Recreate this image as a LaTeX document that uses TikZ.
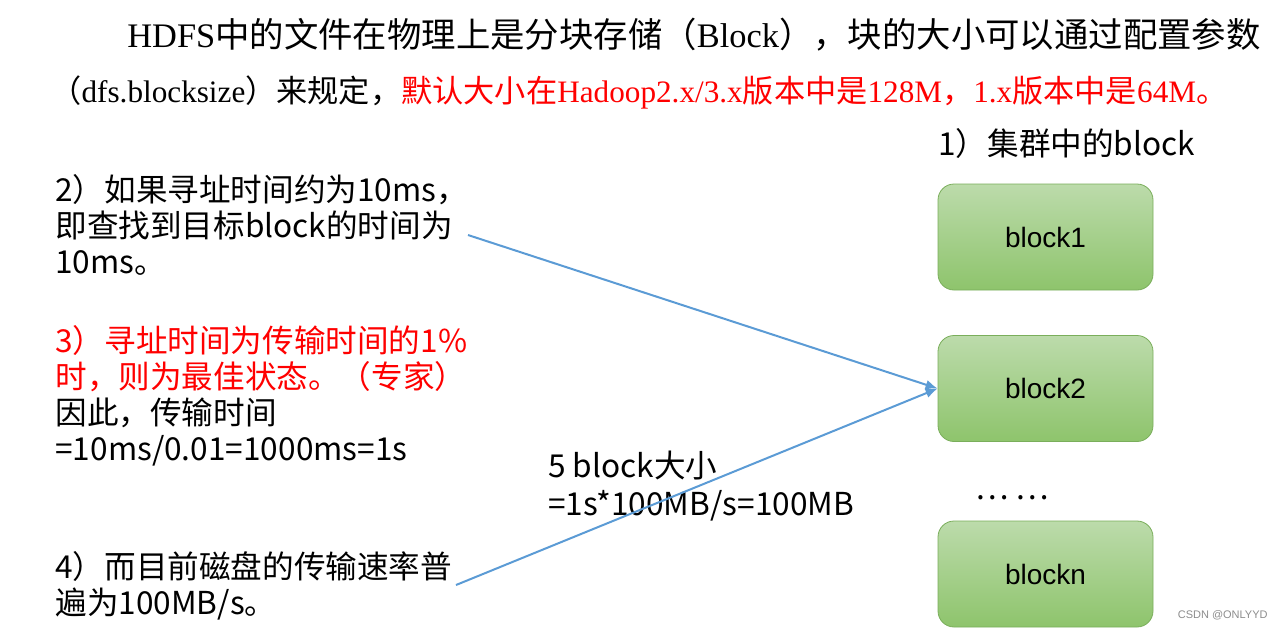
\documentclass[tikz,border=0pt]{standalone}
\usepackage{fontspec}
\setmainfont{Noto Sans CJK SC}
\newfontfamily\latinserif{Liberation Serif}
\newfontfamily\sans{Liberation Sans}
\usetikzlibrary{arrows.meta}
\definecolor{boxtop}{HTML}{BCDBAB}
\definecolor{boxbot}{HTML}{8EC46C}
\definecolor{boxline}{HTML}{7AAE5B}
\definecolor{arrowblue}{HTML}{5B9BD5}
\definecolor{txtred}{HTML}{FF0000}

\tikzset{
    blockbox/.style={draw=boxline, rounded corners=8pt, top color=boxtop, bottom color=boxbot,
        minimum width=107.5pt, minimum height=53pt, font=\sans\fontsize{14}{16}\selectfont},
    note/.style={anchor=base west, inner sep=0pt, align=left, font=\fontsize{15.8}{18}\selectfont},
    link/.style={arrowblue, line width=1pt, -{Latex[length=6pt,width=5pt]}},
}

\begin{document}
\begin{tikzpicture}[x=0.5pt, y=-0.5pt]
    \useasboundingbox (0,0) rectangle (1283,629);

    % Heading
    \node[note, font=\fontsize{17.2}{18}\selectfont] (head1) at (127,47)
        {{\latinserif HDFS}中的文件在物理上是分块存储（{\latinserif Block}），块的大小可以通过配置参数};
    \node[note, font=\fontsize{15.6}{18}\selectfont] (head2) at (50,102)
        {（{\latinserif dfs.blocksize}）来规定，\textcolor{txtred}{默认大小在{\latinserif Hadoop2.x/3.x}版本中是{\latinserif 128M}，{\latinserif 1.x}版本中是{\latinserif 64M}。}};

    % Blocks
    \node[note] (cluster) at (938,155) {1）集群中的block};
    \node[blockbox] (block1) at (1045.5,237) {block1};
    \node[blockbox] (block2) at (1045.5,388.5) {block2};
    \node[blockbox] (blockn) at (1045.5,574) {blockn};
    \node[note] (dots) at (975,499) {…\ …};

    % Notes (anchored at last line)
    \node[note] (seek) at (55,273) {2）如果寻址时间约为10ms，\\即查找到目标block的时间为\\10ms。};
    \node[note] (best) at (55,460) {\textcolor{txtred}{3）寻址时间为传输时间的1\%}\\\textcolor{txtred}{时，则为最佳状态。（专家）}\\因此，传输时间\\=10ms/0.01=1000ms=1s};
    \node[note] (rate) at (55,614) {4）而目前磁盘的传输速率普\\遍为100MB/s。};
    \node[note, font=\fontsize{15.8}{19}\selectfont] (size) at (548,515) {5 block大小\\=1s*100MB/s=100MB};

    % Arrows
    \coordinate (seekend) at (468,235);
    \coordinate (rateend) at (456,585);
    \draw[link] (seekend) -- (block2.west);
    \draw[link] (rateend) -- (block2.west);

    \node[anchor=base east, inner sep=0pt, text=black!45, font=\sans\fontsize{5.5}{6}\selectfont] (mark) at (1268,618) {CSDN @ONLYYD};
\end{tikzpicture}
\end{document}
